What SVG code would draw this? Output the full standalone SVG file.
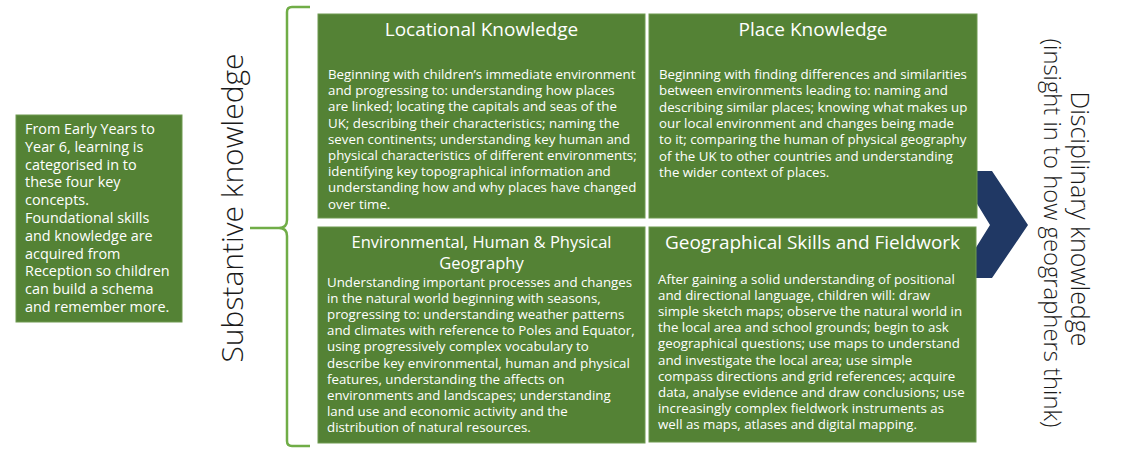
<svg xmlns="http://www.w3.org/2000/svg" width="1133" height="474" viewBox="0 0 1133 474">
<style>
.box{fill:#548235;stroke:#6f9a50;stroke-width:1}
.t{font-family:"Open Sans","Noto Sans","DejaVu Sans",sans-serif;fill:#ffffff}
.title{font-size:19px;text-anchor:middle}
.title2{font-size:16.5px;text-anchor:middle}
.body{font-size:13.3px}
.side{font-size:14.4px}
.big{font-family:"Open Sans","Noto Sans","DejaVu Sans",sans-serif;fill:#1a1a1a;font-weight:300;text-anchor:middle}
</style>
<rect width="1133" height="474" fill="#ffffff"/>
<g id="intro">
<rect class="box" x="16" y="115" width="166" height="207"/>
<text class="t side" x="25">
<tspan x="25" y="134">From Early Years to</tspan>
<tspan x="25" y="151.8">Year 6, learning is</tspan>
<tspan x="25" y="169.6">categorised in to</tspan>
<tspan x="25" y="187.4">these four key</tspan>
<tspan x="25" y="205.2">concepts.</tspan>
<tspan x="25" y="223">Foundational skills</tspan>
<tspan x="25" y="240.8">and knowledge are</tspan>
<tspan x="25" y="258.6">acquired from</tspan>
<tspan x="25" y="276.4">Reception so children</tspan>
<tspan x="25" y="294.2">can build a schema</tspan>
<tspan x="25" y="312">and remember more.</tspan>
</text>
</g>
<g id="substantive">
<text class="big" font-size="30" transform="translate(232,208) rotate(-90)" x="0" y="10.5">Substantive knowledge</text>
</g>
<g id="connectors">
<path d="M310,7 H292 Q287,7 287,12 V220 Q287,228 279,228 H250 M279,228 Q287,228 287,236 V441 Q287,446 292,446 H310" fill="none" stroke="#70ad47" stroke-width="2.5"/>
<polygon points="957,171 992,171 1028,225 992,278 957,278 990,225" fill="#203864"/>
</g>
<g id="locational">
<rect class="box" x="318" y="14" width="327" height="204"/>
<text class="t title" x="481.5" y="36">Locational Knowledge</text>
<text class="t body">
<tspan x="328" y="79">Beginning with children’s immediate environment</tspan>
<tspan x="328" y="95.2">and progressing to: understanding how places</tspan>
<tspan x="328" y="111.4">are linked; locating the capitals and seas of the</tspan>
<tspan x="328" y="127.6">UK; describing their characteristics; naming the</tspan>
<tspan x="328" y="143.8">seven continents; understanding key human and</tspan>
<tspan x="328" y="160">physical characteristics of different environments;</tspan>
<tspan x="328" y="176.2">identifying key topographical information and</tspan>
<tspan x="328" y="192.4">understanding how and why places have changed</tspan>
<tspan x="328" y="208.6">over time.</tspan>
</text>
</g>
<g id="place">
<rect class="box" x="649" y="14" width="328" height="204"/>
<text class="t title" x="813" y="36">Place Knowledge</text>
<text class="t body">
<tspan x="659" y="79">Beginning with finding differences and similarities</tspan>
<tspan x="659" y="95.3">between environments leading to: naming and</tspan>
<tspan x="659" y="111.6">describing similar places; knowing what makes up</tspan>
<tspan x="659" y="127.9">our local environment and changes being made</tspan>
<tspan x="659" y="144.2">to it; comparing the human of physical geography</tspan>
<tspan x="659" y="160.5">of the UK to other countries and understanding</tspan>
<tspan x="659" y="176.8">the wider context of places.</tspan>
</text>
</g>
<g id="environmental">
<rect class="box" x="318" y="227" width="327" height="216"/>
<text class="t title2" x="481.5" y="248">Environmental, Human &amp; Physical</text>
<text class="t title2" x="481.5" y="269">Geography</text>
<text class="t body">
<tspan x="327" y="286.5">Understanding important processes and changes</tspan>
<tspan x="327" y="302.7">in the natural world beginning with seasons,</tspan>
<tspan x="327" y="318.9">progressing to: understanding weather patterns</tspan>
<tspan x="327" y="335.1">and climates with reference to Poles and Equator,</tspan>
<tspan x="327" y="351.3">using progressively complex vocabulary to</tspan>
<tspan x="327" y="367.5">describe key environmental, human and physical</tspan>
<tspan x="327" y="383.7">features, understanding the affects on</tspan>
<tspan x="327" y="399.9">environments and landscapes; understanding</tspan>
<tspan x="327" y="416.1">land use and economic activity and the</tspan>
<tspan x="327" y="432.3">distribution of natural resources.</tspan>
</text>
</g>
<g id="skills">
<rect class="box" x="649" y="227" width="327" height="215"/>
<text class="t title" x="812.5" y="249">Geographical Skills and Fieldwork</text>
<text class="t body">
<tspan x="658" y="283.5">After gaining a solid understanding of positional</tspan>
<tspan x="658" y="299.7">and directional language, children will: draw</tspan>
<tspan x="658" y="315.9">simple sketch maps; observe the natural world in</tspan>
<tspan x="658" y="332.1">the local area and school grounds; begin to ask</tspan>
<tspan x="658" y="348.3">geographical questions; use maps to understand</tspan>
<tspan x="658" y="364.5">and investigate the local area; use simple</tspan>
<tspan x="658" y="380.7">compass directions and grid references; acquire</tspan>
<tspan x="658" y="396.9">data, analyse evidence and draw conclusions; use</tspan>
<tspan x="658" y="413.1">increasingly complex fieldwork instruments as</tspan>
<tspan x="658" y="429.3">well as maps, atlases and digital mapping.</tspan>
</text>
</g>
<g id="disciplinary">
<text class="big" font-size="25" transform="translate(1080,219) rotate(90)" x="0" y="8.7">Disciplinary knowledge</text>
<text class="big" font-size="23.8" transform="translate(1052,233) rotate(90)" x="0" y="8.3">(insight in to how geographers think)</text>
</g>
</svg>
